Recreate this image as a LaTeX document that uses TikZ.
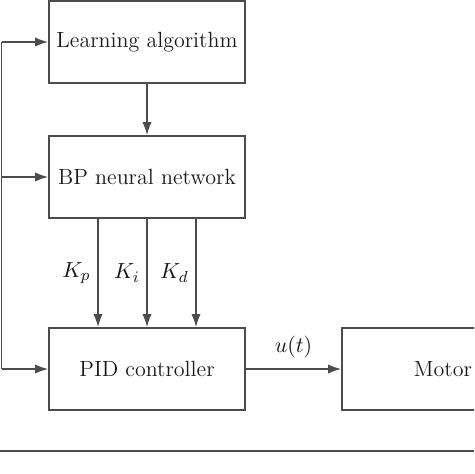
\documentclass[tikz,border=0pt]{standalone}
\usepackage{amsmath,amssymb}
\usepackage{tikz}
\usetikzlibrary{arrows.meta}

\tikzset{
  block/.style={draw=black!70, line width=0.8pt, minimum width=98pt, minimum height=41pt,
    font=\fontsize{11}{13}\selectfont, text=black!90},
  sig/.style={draw=black!70, line width=0.8pt, -{Latex[length=6.5pt,width=4.6pt]}},
  lab/.style={font=\fontsize{11}{13}\selectfont, text=black!90}
}

\begin{document}
\begin{tikzpicture}[x=0.5pt,y=-0.5pt]
    % Frame of the cut-out
    \path[use as bounding box, clip] (0,0) rectangle (474,474);
    % Blocks
    \node[block] (learn) at (147,42) {Learning algorithm};
    \node[block] (bpnn) at (147,177) {BP neural network};
    \node[block] (pid) at (147,369) {PID controller};
    \node[block, minimum width=101pt] (motor) at (443,369) {Motor};
    % Learning algorithm to network
    \draw[sig] (learn) -- (bpnn);
    % Gains
    \foreach \dx/\gain in {-24.5pt/p, 0pt/i, 24.5pt/d}
        \draw[sig] ([xshift=\dx]bpnn.south) -- ([xshift=\dx]pid.north)
            node[lab, midway, left=0pt] {$K_\gain$};
    % Control signal
    \draw[sig] (pid) -- node[lab, above=2pt] {$u(t)$} (motor);
    % Feedback branch on the left
    \coordinate (fbtop) at (1.5,42);
    \coordinate (fbbot) at (1.5,369);
    \draw[black!70, line width=0.8pt] (fbbot) -- (fbtop);
    \draw[sig] (fbtop) -- (learn);
    \draw[sig] (fbtop |- bpnn.west) -- (bpnn);
    \draw[sig] (fbbot) -- (pid);
    % Line along the bottom
    \coordinate (botl) at (0,451);
    \coordinate (botr) at (474,451);
    \draw[black!70, line width=0.8pt] (botl) -- (botr);
\end{tikzpicture}
\end{document}
